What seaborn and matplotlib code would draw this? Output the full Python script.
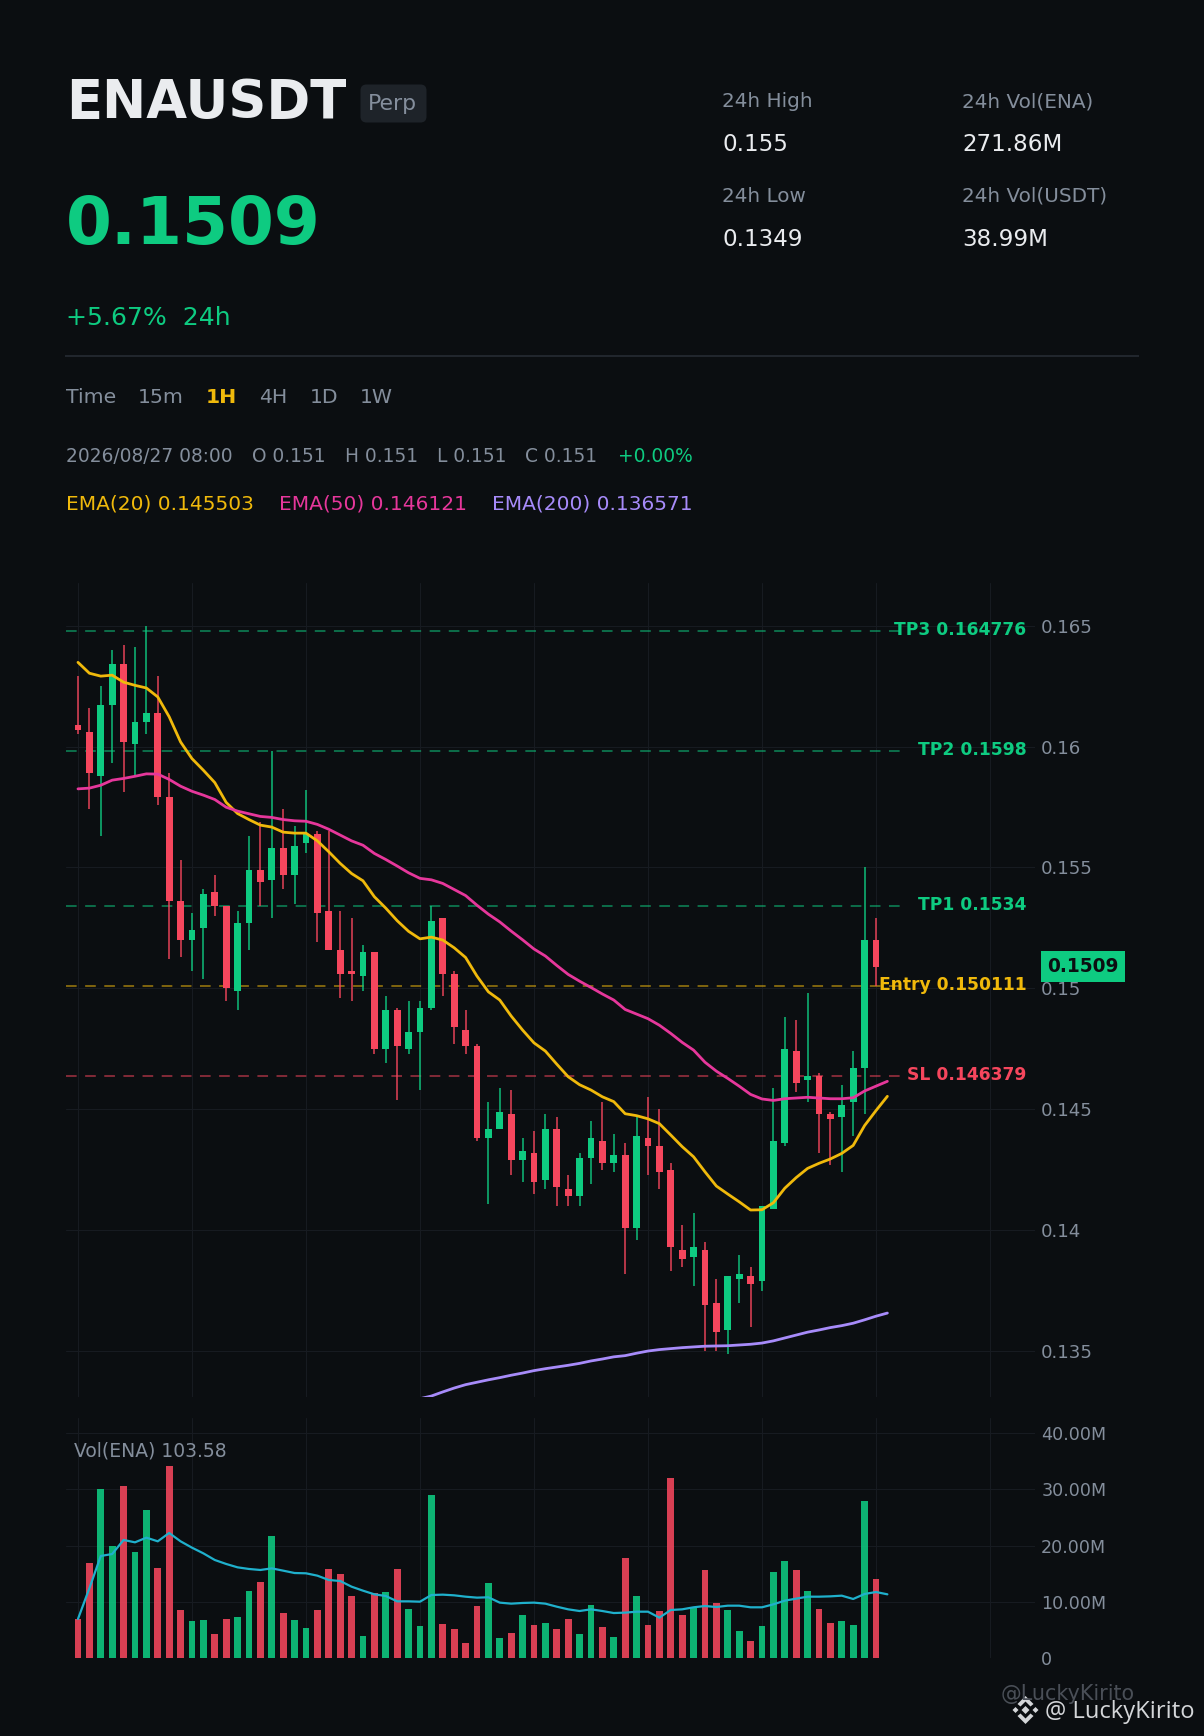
import numpy as np
import pandas as pd
import matplotlib
matplotlib.use("Agg")
import matplotlib.pyplot as plt
from matplotlib.patches import FancyBboxPatch, Polygon, Rectangle
import seaborn as sns

# candles
opens = [.1609,.1606,.1588,.1617,.1634,.1601,.1610,.1614,.1579,.1536,.1520,.1525,.1540,.1534,.1499,.1527,.1549,.1545,
         .1558,.1547,.1560,.1564,.1532,.1516,.1507,.1505,.1515,.1475,.1491,.1475,.1482,.1492,.1529,.1506,.1483,.1476,
         .1438,.1442,.1448,.1429,.1432,.1421,.1442,.1417,.1414,.1430,.1437,.1428,.1431,.1401,.1438,.1435,.1425,.1392,
         .1389,.1392,.1370,.1359,.1380,.1381,.1379,.1409,.1436,.1474,.1462,.1464,.1448,.1447,.1453,.1467,.1520]
highs = [.1629,.1616,.1625,.1640,.1642,.1641,.1650,.1629,.1589,.1553,.1531,.1541,.1547,.1534,.1532,.1563,.1569,.1598,
         .1574,.1567,.1582,.1565,.1565,.1532,.1529,.1518,.1515,.1497,.1492,.1495,.1495,.1534,.1529,.1507,.1491,.1477,
         .1453,.1459,.1458,.1438,.1441,.1448,.1447,.1423,.1432,.1445,.1453,.1440,.1436,.1447,.1455,.1450,.1428,.1402,
         .1407,.1395,.1380,.1381,.1390,.1385,.1410,.1459,.1488,.1487,.1498,.1465,.1449,.1460,.1474,.1550,.1529]
lows = [.1605,.1574,.1563,.1593,.1581,.1588,.1605,.1576,.1512,.1513,.1507,.1504,.1530,.1495,.1491,.1516,.1534,.1529,
        .1541,.1535,.1556,.1519,.1516,.1496,.1495,.1499,.1473,.1469,.1454,.1473,.1458,.1491,.1497,.1477,.1473,.1437,
        .1411,.1442,.1423,.1420,.1415,.1417,.1410,.1410,.1410,.1419,.1425,.1424,.1382,.1396,.1423,.1417,.1383,.1385,
        .1377,.1350,.1350,.1349,.1370,.1360,.1375,.1409,.1435,.1457,.1453,.1432,.1427,.1424,.1439,.1448,.1501]
closes = [.1607,.1589,.1617,.1634,.1602,.1610,.1614,.1579,.1536,.1520,.1524,.1539,.1534,.1500,.1527,.1549,.1544,.1558,
          .1547,.1559,.1564,.1531,.1516,.1506,.1506,.1515,.1475,.1491,.1476,.1482,.1492,.1528,.1506,.1484,.1476,.1438,
          .1442,.1449,.1429,.1433,.1420,.1442,.1418,.1414,.1430,.1438,.1428,.1431,.1401,.1439,.1435,.1424,.1393,.1388,
          .1393,.1369,.1358,.1381,.1382,.1378,.1410,.1437,.1475,.1461,.1464,.1448,.1446,.1452,.1467,.1520,.1509]

ema20 = [.16348,.16303,.16291,.16295,.16266,.16253,.16242,.16205,.16123,.16019,.1595,.15902,.15851,.15769,.15723,
         .15698,.15675,.15667,.15646,.15642,.15642,.1561,.15565,.15517,.15475,.15445,.15379,.15332,.1528,.15236,
         .15205,.15212,.152,.15168,.15128,.15051,.14986,.14952,.14886,.14828,.14775,.14741,.14687,.14635,.14602,
         .1458,.14552,.14532,.14482,.14474,.14461,.14441,.14394,.14346,.14304,.14242,.14183,.1415,.14118,.14084,
         .14085,.14114,.14174,.14218,.14256,.14277,.14295,.14318,.14351,.14433,.14495,.14554]
ema50 = [.15825,.15828,.1584,.15861,.15868,.15877,.15887,.15886,.15864,.15836,.15815,.15799,.15781,.15749,.15733,
         .15722,.15711,.15707,.15698,.15693,.15691,.15678,.15658,.15634,.1561,.15592,.15558,.15533,.15506,.15478,
         .15455,.15449,.15434,.15409,.15384,.15344,.15307,.15275,.15237,.15201,.15163,.15134,.15095,.15058,.1503,
         .15004,.14977,.14952,.14913,.14894,.14875,.14848,.14814,.14777,.14745,.14695,.14658,.14628,.14596,.14562,
         .14543,.14537,.14544,.14547,.1455,.14547,.14544,.14544,.14548,.14576,.14596,.14616]
# ema200 only enters the window at candle 30
ema200_start = 30
ema200 = [.13304,.13315,.13332,.13348,.13362,.13372,.13382,.13391,.13401,.1341,.1342,.13428,.13435,.13442,.1345,
          .1346,.13468,.13477,.13482,.13492,.13501,.13507,.13511,.13515,.13518,.13521,.13522,.13523,.13526,.13529,
          .13534,.13543,.13555,.13567,.13579,.13588,.13598,.13606,.13616,.1363,.13645,.13658]

volumes = [6.94,16.9,30.0,19.93,30.6,18.86,26.33,16.0,34.16,8.54,6.58,6.76,4.27,6.94,7.3,11.92,13.52,21.7,8.0,6.76,
           5.34,8.54,15.84,14.95,11.03,3.91,11.57,11.74,15.84,8.72,5.69,29.0,6.05,5.16,2.67,9.25,13.35,3.56,4.45,7.65,
           5.87,6.23,5.16,6.94,4.27,9.43,5.52,3.74,17.8,11.03,5.87,8.36,32.03,7.65,9.07,15.66,9.79,8.54,4.8,3.02,
           5.69,15.3,17.26,15.66,11.92,8.72,6.23,6.58,5.87,27.94,14.06]
vol_ma = [6.94,12.4,18.15,18.5,21.0,20.58,21.41,20.76,22.24,20.76,19.63,18.62,17.44,16.73,16.13,15.84,15.66,15.95,
          15.54,15.12,15.07,14.65,13.88,13.7,12.69,11.98,11.33,11.03,10.08,10.08,10.02,11.21,11.27,11.15,10.91,10.74,
          10.8,9.85,9.67,9.79,9.85,9.67,9.13,8.66,8.36,8.66,8.36,8.0,8.07,8.24,8.24,7.18,8.54,8.66,9.02,9.25,9.07,
          9.31,9.31,9.02,9.02,9.55,10.2,10.56,10.91,10.91,10.97,11.09,10.5,11.39,11.74,11.33]

levels = [0.164776, 0.1598, 0.1534, 0.150111, 0.146379]
level_labels = ["TP3 0.164776", "TP2 0.1598", "TP1 0.1534", "Entry 0.150111", "SL 0.146379"]
price_ticks = [0.165, 0.16, 0.155, 0.15, 0.145, 0.14, 0.135]
price_tick_labels = ["0.165", "0.16", "0.155", "0.15", "0.145", "0.14", "0.135"]
vol_ticks = [40, 30, 20, 10, 0]
vol_tick_labels = ["40.00M", "30.00M", "20.00M", "10.00M", "0"]
x_grid = list(range(0, 90, 10))

BG = "#0b0e11"
GREEN = "#0ecb81"
RED = "#f6465d"
GOLD = "#f0b90b"
PINK = "#e6379b"
PURPLE = "#a78bfa"
CYAN = "#1fb0cc"
GREY = "#848e9c"
WHITE = "#eaecef"
GRID = "#171b21"
level_colors = [GREEN, GREEN, GREEN, GOLD, RED]

sns.set_theme(style="darkgrid", rc={"figure.facecolor": BG, "axes.facecolor": BG, "savefig.facecolor": BG,
                                    "grid.color": GRID, "grid.linewidth": 0.8})
plt.rcParams["font.family"] = ["DejaVu Sans"]

W, H = 1204, 1736
fig = plt.figure(figsize=(W / 100, H / 100), dpi=100)


def px_axes(left, top, right, bottom):
    return fig.add_axes([left / W, 1 - bottom / H, (right - left) / W, (bottom - top) / H])


ax = px_axes(66, 583, 1035, 1397)
ax_vol = px_axes(66, 1418, 1035, 1658)

df = pd.DataFrame({"o": opens, "h": highs, "l": lows, "c": closes, "vol": volumes})
df["i"] = df.index
df["side"] = np.where(df.c >= df.o, "up", "down")
palette = {"up": GREEN, "down": RED}
colors = df.side.map(palette)

# dashed levels stop a bit past the last candle
for level, col in zip(levels, level_colors):
    ax.plot([-1.05, 72.5], [level, level], color=col, alpha=0.55, lw=1.3, ls=(0, (5.9, 4.7)), zorder=1.5)

ax.vlines(df.i, df.l, df.h, colors=colors, lw=1.2, alpha=0.85, zorder=3)
ax.bar(df.i, (df.c - df.o).abs(), bottom=df[["o", "c"]].min(axis=1), width=0.6, color=colors, lw=0, zorder=3.2)

sns.lineplot(x=range(len(ema20)), y=ema20, color=GOLD, lw=2.0, errorbar=None, ax=ax, zorder=4)
sns.lineplot(x=range(len(ema50)), y=ema50, color=PINK, lw=2.0, errorbar=None, ax=ax, zorder=4)
sns.lineplot(x=range(ema200_start, ema200_start + len(ema200)), y=ema200, color=PURPLE, lw=2.0, errorbar=None, ax=ax, zorder=4)

for level, text, col in zip(levels, level_labels, level_colors):
    ax.annotate(text, (83.2, level), xytext=(0, 0.7), textcoords="offset points", ha="right", va="center",
                color=col, fontsize=12.3, fontweight="bold", zorder=5)

ax.set_xlim(-1.05, 83.95)
ax.set_ylim(0.13311, 0.16676)
ax.set_yticks(price_ticks, price_tick_labels)

sns.barplot(data=df, x="i", y="vol", hue="side", palette=palette, dodge=False, native_scale=True, width=0.6,
            legend=False, alpha=0.88, saturation=1, linewidth=0, ax=ax_vol, zorder=3)
sns.lineplot(x=range(len(vol_ma)), y=vol_ma, color=CYAN, lw=1.6, errorbar=None, ax=ax_vol, zorder=4)
ax_vol.set_xlim(-1.05, 83.95)
ax_vol.set_ylim(0, 42.7)
ax_vol.set_yticks(vol_ticks, vol_tick_labels)

for a, size in ((ax, 13.1), (ax_vol, 12.6)):
    a.set_xticks(x_grid)
    a.yaxis.tick_right()
    a.tick_params(axis="y", length=0, pad=4.5, labelsize=size, labelcolor=GREY)
    a.tick_params(axis="x", length=0, labelbottom=False)
    a.set_xlabel("")
    a.set_ylabel("")
    a.set_axisbelow(True)
    a.grid(True, color=GRID, lw=0.8)
    sns.despine(ax=a, left=True, right=True, top=True, bottom=True)

# header and other page furniture, placed in pixels
page = fig.add_axes([0, 0, 1, 1], zorder=10)
page.set_xlim(0, W)
page.set_ylim(H, 0)
page.axis("off")


def label(x, y, s, color=GREY, size=14.4, weight="normal", **kw):
    page.text(x, y, s, color=color, fontsize=size, fontweight=weight, va="baseline", **kw)


label(66, 118, "ENAUSDT", WHITE, 38.0, "bold")
page.add_patch(FancyBboxPatch((360.5, 84.5), 66, 38, boxstyle="round,pad=0,rounding_size=6", fc="#1e2329", ec="none"))
label(368, 110, "Perp", GREY, 15.8)
label(66, 244, "0.1509", GREEN, 47.6, "bold")
label(66, 325, "+5.67%  24h", GREEN, 18.1)
page.hlines(355.5, 65, 1139, color="#262b33", lw=1.2)

stats = [(722, 107, "24h High", 151, "0.155"), (722, 202, "24h Low", 246.5, "0.1349"),
         (962.5, 107, "24h Vol(ENA)", 151, "271.86M"), (962.5, 202, "24h Vol(USDT)", 246.5, "38.99M")]
for x, y1, name, y2, value in stats:
    label(x, y1, name, GREY, 14.4)
    label(x, y2, value, WHITE, 16.6)

for x, s in [(66, "Time"), (138.2, "15m"), (258.7, "4H"), (309.5, "1D"), (359.5, "1W")]:
    label(x, 403, s, GREY, 14.7)
label(205.8, 403, "1H", GOLD, 14.7, "bold")

for x, s in [(66, "2026/08/27 08:00"), (252.2, "O 0.151"), (345, "H 0.151"), (437, "L 0.151"), (525, "C 0.151")]:
    label(x, 462.5, s, GREY, 13.45)
label(617.5, 462.5, "+0.00%", GREEN, 13.45)

label(66, 510, "EMA(20) 0.145503", GOLD, 14.5)
label(279, 510, "EMA(50) 0.146121", PINK, 14.5)
label(492, 510, "EMA(200) 0.136571", PURPLE, 14.5)

label(74, 1456.5, "Vol(ENA) 103.58", GREY, 13.5)

# last price tag
page.add_patch(Rectangle((1041, 951), 84, 31, fc=GREEN, ec="none"))
page.text(1082.5, 966, "0.1509", color=BG, fontsize=13.4, fontweight="bold", ha="center", va="center")

# watermarks
label(1001, 1700, "@LuckyKirito", "#4a4f57", 14.9)
label(1045, 1718, "@ LuckyKirito", "#d4d6d9", 17.1, family="Open Sans")
cx, cy = 1025.5, 1710
for dx, dy, r in [(0, 0, 4), (-10, 0, 3), (10, 0, 3)]:
    page.add_patch(Polygon([(cx + dx - r, cy + dy), (cx + dx, cy + dy - r), (cx + dx + r, cy + dy), (cx + dx, cy + dy + r)],
                           fc="#d4d6d9", ec="none"))
for sgn in (-1, 1):
    page.add_patch(Polygon([(cx - 8, cy + sgn * 6), (cx, cy + sgn * 14), (cx + 8, cy + sgn * 6), (cx + 5, cy + sgn * 3.5),
                            (cx, cy + sgn * 8.5), (cx - 5, cy + sgn * 3.5)], fc="#d4d6d9", ec="none"))

fig.savefig("out.png", dpi=100, facecolor=BG)
